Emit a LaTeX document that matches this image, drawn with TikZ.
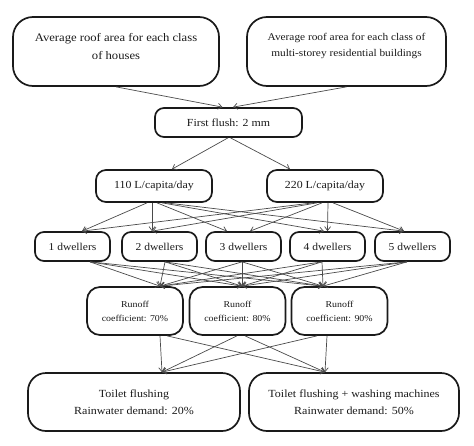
\documentclass[tikz,border=0pt]{standalone}
\usepackage{fontspec}
\setmainfont{Liberation Serif}[FakeStretch=1.1]
\usetikzlibrary{arrows.meta}
\definecolor{inkc}{HTML}{1A1A1A}
\definecolor{linec}{HTML}{4A4A4A}
\tikzset{
  box/.style={draw=inkc, line width=1.7pt, align=center, text=inkc, inner sep=0pt},
  arr/.style={draw=linec, line width=0.7pt, -{Straight Barb[length=4pt,width=6pt]}},
}
\begin{document}
\begin{tikzpicture}[x=1pt,y=-1pt]
\useasboundingbox (0,0) rectangle (474,445);
% top boxes
\node[box, minimum width=206pt, minimum height=69pt, rounded corners=20pt] (tl) at (116,51.5) {};
\node[align=center, text=inkc, font=\fontsize{11.5}{18}\selectfont] (tltx) at (116,47) {Average roof area for each class\\of houses};
\node[box, minimum width=199pt, minimum height=69pt, rounded corners=20pt] (tr) at (346.5,51.5) {};
\node[align=center, text=inkc, font=\fontsize{10.3}{16}\selectfont] (trtx) at (346.5,45.5) {Average roof area for each class of\\multi-storey residential buildings};
% first flush
\node[box, minimum width=147pt, minimum height=29pt, rounded corners=9pt, font=\fontsize{10.8}{13}\selectfont] (ff) at (228.5,122.5) {First flush: 2 mm};
% consumption
\node[box, minimum width=116pt, minimum height=32pt, rounded corners=10pt, font=\fontsize{10.8}{13}\selectfont] (c1) at (154,186) {110 L/capita/day};
\node[box, minimum width=116pt, minimum height=32pt, rounded corners=10pt, font=\fontsize{10.8}{13}\selectfont] (c2) at (325,186) {220 L/capita/day};
% dwellers
\foreach \i/\x in {1/72.5,2/159.5,3/243.5,4/327.5,5/412.5}{
  \node[box, minimum width=75pt, minimum height=29pt, rounded corners=9pt, font=\fontsize{10.5}{13}\selectfont] (d\i) at (\x,246.5) {\i\ dwellers};
}
% runoff
\foreach \i/\x/\p in {1/135/70,2/237.5/80,3/339.5/90}{
  \node[box, minimum width=96pt, minimum height=48pt, rounded corners=13pt, font=\fontsize{9}{14}\selectfont] (r\i) at (\x,311) {Runoff\\coefficient: \p\%};
}
% demand
\node[box, minimum width=212pt, minimum height=58pt, rounded corners=18pt, font=\fontsize{10.9}{17}\selectfont] (t1) at (134,402) {Toilet flushing\\Rainwater demand: 20\%};
\node[box, minimum width=210pt, minimum height=58pt, rounded corners=18pt, font=\fontsize{10.9}{17}\selectfont] (t2) at (354,402) {Toilet flushing + washing machines\\Rainwater demand: 50\%};
% connectors top
\draw[arr] (tl.south) -- ([xshift=-6pt]ff.north);
\draw[arr] (tr.south) -- ([xshift=4.5pt]ff.north);
\draw[arr] ([xshift=-0.5pt]ff.south) -- ([xshift=18pt]c1.north);
\draw[arr] ([xshift=2pt]ff.south) -- ([xshift=-35pt]c2.north);
% consumption -> dwellers
\draw[arr] ([xshift=-7pt]c1.south) -- ([xshift=9.5pt]d1.north);
\draw[arr] ([xshift=-2pt]c1.south) -- ([xshift=-7.5pt]d2.north);
\draw[arr] ([xshift=3pt]c1.south) -- ([xshift=-16.5pt]d3.north);
\draw[arr] ([xshift=8pt]c1.south) -- ([xshift=-3.5pt]d4.north);
\draw[arr] ([xshift=12pt]c1.south) -- ([xshift=-8.5pt]d5.north);
\draw[arr] ([xshift=-12pt]c2.south) -- ([xshift=9.5pt]d1.north);
\draw[arr] ([xshift=-8pt]c2.south) -- ([xshift=-7.5pt]d2.north);
\draw[arr] ([xshift=-3pt]c2.south) -- ([xshift=6.5pt]d3.north);
\draw[arr] ([xshift=3pt]c2.south) -- ([xshift=0pt]d4.north);
\draw[arr] ([xshift=8pt]c2.south) -- ([xshift=-8.5pt]d5.north);
% dwellers -> runoff
\foreach \i/\s in {1/17.5,2/5.5,3/-1.5,4/-5.5,5/-5.5}{
  \draw[arr] ([xshift=\s pt]d\i.south) -- ([xshift=25pt]r1.north);
  \draw[arr] ([xshift=\s pt]d\i.south) -- ([xshift=4.5pt]r2.north);
  \draw[arr] ([xshift=\s pt]d\i.south) -- ([xshift=-16.5pt]r3.north);
}
% runoff -> demand
\draw[arr] ([xshift=25pt]r1.south) -- ([xshift=28pt]t1.north);
\draw[arr] ([xshift=32pt]r1.south) -- ([xshift=-29pt]t2.north);
\draw[arr] ([xshift=-0.5pt]r2.south) -- ([xshift=28pt]t1.north);
\draw[arr] ([xshift=7.5pt]r2.south) -- ([xshift=-29pt]t2.north);
\draw[arr] ([xshift=-22.5pt]r3.south) -- ([xshift=28pt]t1.north);
\draw[arr] ([xshift=-12.5pt]r3.south) -- ([xshift=-29pt]t2.north);
\end{tikzpicture}
\end{document}
